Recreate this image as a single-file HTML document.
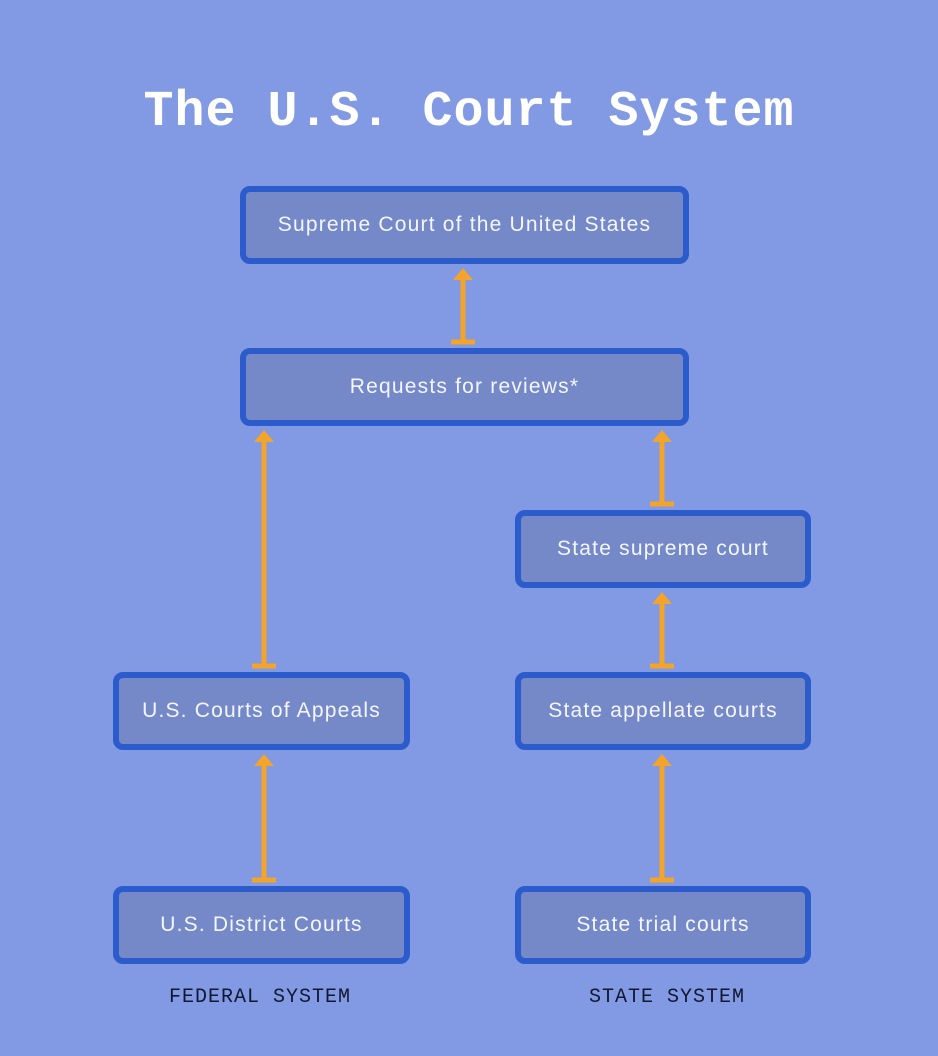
<!DOCTYPE html>
<html><head><style>
html,body{margin:0;padding:0}
body{width:938px;height:1056px;background:#8299e3;position:relative;overflow:hidden;font-family:"Liberation Sans",sans-serif}
.t{position:absolute;left:0;width:938px;top:84px;text-align:center;color:#fff;font:bold 50px "Liberation Mono",monospace;letter-spacing:1px}
.b{position:absolute;box-sizing:border-box;border:6px solid #2c5ccc;border-radius:10px;background:#7589c9;color:#f4f6ff;font-size:21px;letter-spacing:1.2px;display:flex;align-items:center;justify-content:center;height:78px}
.l{position:absolute;font:20px "Liberation Mono",monospace;letter-spacing:1px;color:#111830;top:986px;width:320px;text-align:center}
</style></head><body>
<div class="t">The U.S. Court System</div>
<div class="b" style="left:240px;top:186px;width:449px">Supreme Court of the United States</div>
<div class="b" style="left:240px;top:348px;width:449px">Requests for reviews*</div>
<div class="b" style="left:515px;top:510px;width:296px">State supreme court</div>
<div class="b" style="left:113px;top:672px;width:297px">U.S. Courts of Appeals</div>
<div class="b" style="left:515px;top:672px;width:296px">State appellate courts</div>
<div class="b" style="left:113px;top:886px;width:297px">U.S. District Courts</div>
<div class="b" style="left:515px;top:886px;width:296px">State trial courts</div>
<svg width="938" height="1056" style="position:absolute;left:0;top:0">
<g stroke="#f4a428" stroke-width="5" fill="#f4a428">
<line x1="463" y1="278" x2="463" y2="342"/><line x1="451" y1="342" x2="475" y2="342"/><polygon points="463,268 453,280 473,280" stroke="none"/>
<line x1="264" y1="440" x2="264" y2="666"/><line x1="252" y1="666" x2="276" y2="666"/><polygon points="264,430 254,442 274,442" stroke="none"/>
<line x1="662" y1="440" x2="662" y2="504"/><line x1="650" y1="504" x2="674" y2="504"/><polygon points="662,430 652,442 672,442" stroke="none"/>
<line x1="662" y1="602" x2="662" y2="666"/><line x1="650" y1="666" x2="674" y2="666"/><polygon points="662,592 652,604 672,604" stroke="none"/>
<line x1="264" y1="764" x2="264" y2="880"/><line x1="252" y1="880" x2="276" y2="880"/><polygon points="264,754 254,766 274,766" stroke="none"/>
<line x1="662" y1="764" x2="662" y2="880"/><line x1="650" y1="880" x2="674" y2="880"/><polygon points="662,754 652,766 672,766" stroke="none"/>
</g>
</svg>
<div class="l" style="left:100px">FEDERAL SYSTEM</div>
<div class="l" style="left:507px">STATE SYSTEM</div>
</body></html>
